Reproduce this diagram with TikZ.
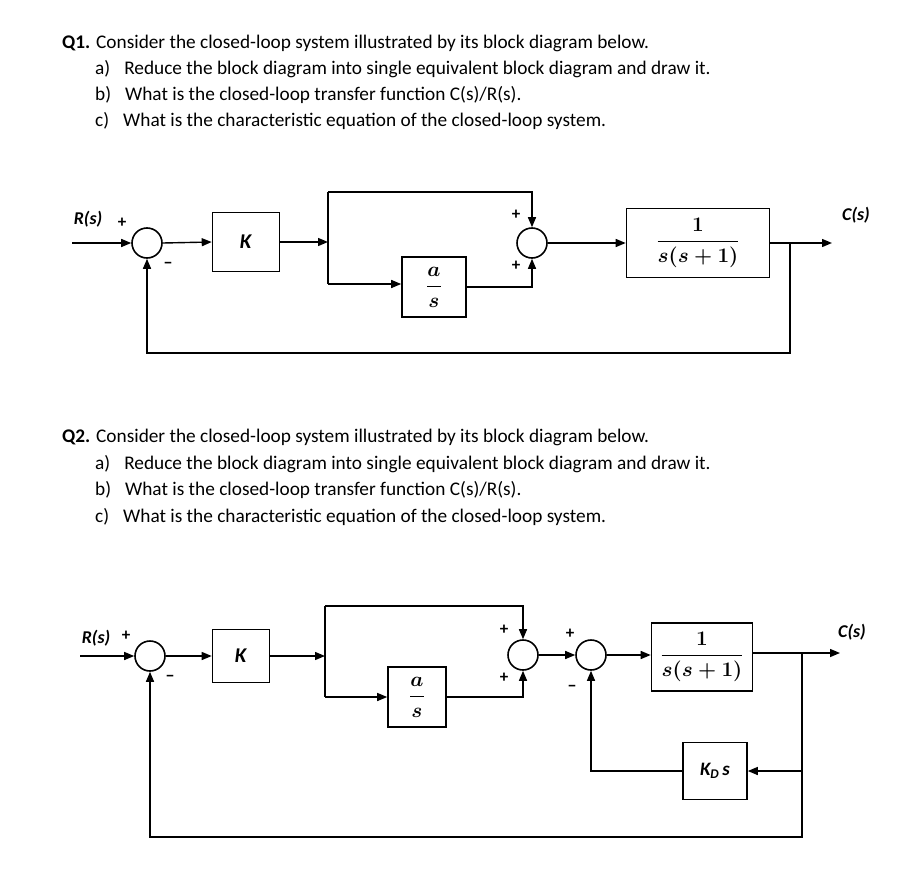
\documentclass[tikz,border=0pt]{standalone}
\usepackage{fontspec}
\usepackage{amsmath}
\setmainfont{Carlito}
\usetikzlibrary{arrows.meta}
\begin{document}
\begin{tikzpicture}[x=1pt,y=-1pt,
  blk/.style={draw,line width=1.6pt,inner sep=0pt,font=\fontsize{21}{21}\selectfont\boldmath},
  sum/.style={draw,circle,line width=1.6pt,minimum size=30pt,inner sep=0pt},
  w/.style={line width=1.4pt},
  ar/.style={line width=1.4pt,-{Triangle[length=10pt,width=8pt]}},
  lab/.style={font=\bfseries\itshape\fontsize{18}{18}\selectfont},
  sg/.style={font=\bfseries\fontsize{17}{17}\selectfont,inner sep=0pt},
  txt/.style={anchor=west,font=\fontsize{19.3}{21}\selectfont,inner sep=0pt}]
\useasboundingbox (0,0) rectangle (900,889);
% ---------- texts
\node[txt] (q1) at (62,43) {\textbf{Q1.} Consider the closed-loop system illustrated by its block diagram below.};
\node[txt] (q1a) at (95,69) {a)\hspace{14pt}Reduce the block diagram into single equivalent block diagram and draw it.};
\node[txt] (q1b) at (95,95) {b)\hspace{14pt}What is the closed-loop transfer function C(s)/R(s).};
\node[txt] (q1c) at (95,121) {c)\hspace{14pt}What is the characteristic equation of the closed-loop system.};
\node[txt] (q2) at (62,437) {\textbf{Q2.} Consider the closed-loop system illustrated by its block diagram below.};
\node[txt] (q2a) at (95,464) {a)\hspace{14pt}Reduce the block diagram into single equivalent block diagram and draw it.};
\node[txt] (q2b) at (95,490) {b)\hspace{14pt}What is the closed-loop transfer function C(s)/R(s).};
\node[txt] (q2c) at (95,517) {c)\hspace{14pt}What is the characteristic equation of the closed-loop system.};
% ---------- Q1 diagram
\node[sum] (s1) at (147,243) {};
\node[blk,minimum width=67pt,minimum height=59pt] (k1) at (246,242) {\textbf{\textit{K}}};
\coordinate (b1) at (328,242);
\coordinate (b1t) at (328,192);
\coordinate (b1b) at (328,284);
\node[blk,minimum width=64pt,minimum height=60pt] (a1) at (434,287) {$\dfrac{a}{s}$};
\node[sum] (s2) at (532,243) {};
\node[blk,minimum width=143pt,minimum height=69pt] (g1) at (698,243) {$\dfrac{1}{s(s+1)}$};
\coordinate (o1) at (832,243);
\coordinate (f1) at (790,243);
\coordinate (in1) at (72,243);
\node[lab] (r1) at (88,219) {R(s)};
\node[lab] (c1) at (856,215) {C(s)};
\draw[ar] (in1) -- (s1.west);
\draw[ar] (s1.east) -- (k1.west);
\draw[ar] (k1.east) -- (b1);
\draw[w] (b1t) -- (b1b);
\draw[ar] (b1b) -- (a1.west |- b1b);
\draw[ar] (b1t) -| (s2.north);
\draw[ar] (a1.east) -| (s2.south);
\draw[ar] (s2.east) -- (g1.west);
\draw[ar] (g1.east) -- (o1);
\draw[ar] (f1) -- (790,353) -| (s1.south);
\node[sg] (p11) at (122,223) {+};
\node[sg] (m11) at (168,265) {\textminus};
\node[sg] (p12) at (516,215) {+};
\node[sg] (p13) at (516,266) {+};
% ---------- Q2 diagram
\node[sum] (t1) at (150,656) {};
\node[blk,minimum width=57pt,minimum height=53pt] (k2) at (241,656) {\textbf{\textit{K}}};
\coordinate (d1) at (325,656);
\coordinate (d1t) at (325,606);
\coordinate (d1b) at (325,697);
\node[blk,minimum width=58pt,minimum height=60pt] (a2) at (417,697) {$\dfrac{a}{s}$};
\node[sum] (t2) at (523,655) {};
\node[sum] (t3) at (591,655) {};
\node[blk,minimum width=101pt,minimum height=68pt] (g2) at (702,657) {$\dfrac{1}{s(s+1)}$};
\node[blk,minimum width=64pt,minimum height=57pt,font=\fontsize{19}{19}\selectfont] (kd) at (715,771) {\textbf{\textit{K\textsubscript{D}\,s}}};
\coordinate (o2) at (840,653);
\coordinate (f2) at (802,653);
\coordinate (in2) at (80,656);
\node[lab] (r2) at (96,638) {R(s)};
\node[lab] (c2) at (852,632) {C(s)};
\draw[ar] (in2) -- (t1.west);
\draw[ar] (t1.east) -- (k2.west);
\draw[ar] (k2.east) -- (d1);
\draw[w] (d1t) -- (d1b);
\draw[ar] (d1b) -- (a2.west |- d1b);
\draw[ar] (d1t) -| (t2.north);
\draw[ar] (a2.east) -| (t2.south);
\draw[ar] (t2.east) -- (t3.west);
\draw[ar] (t3.east) -- (g2.west |- t3);
\draw[ar] (g2.east |- o2) -- (o2);
\draw[ar] (f2) |- (kd.east);
\draw[ar] (kd.west) -| (t3.south);
\draw[ar] (f2) -- (802,837) -| (t1.south);
\node[sg] (p21) at (126,636) {+};
\node[sg] (m21) at (170,678) {\textminus};
\node[sg] (p22) at (504,630) {+};
\node[sg] (p23) at (504,678) {+};
\node[sg] (p24) at (570,634) {+};
\node[sg] (m24) at (572,688) {\textminus};
\end{tikzpicture}
\end{document}
